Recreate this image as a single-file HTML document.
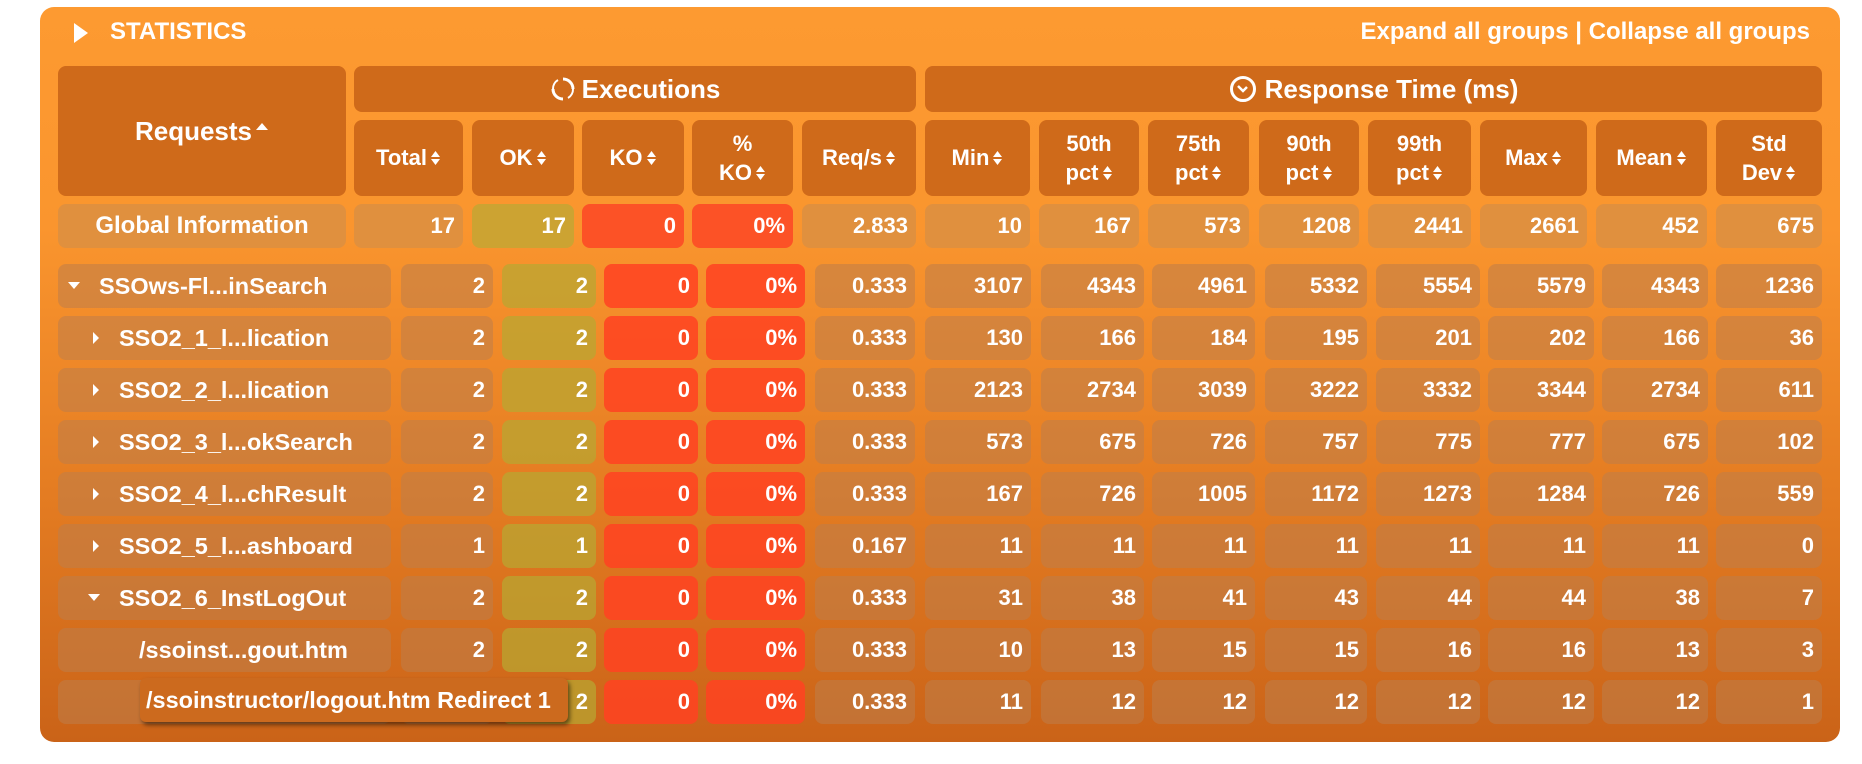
<!DOCTYPE html>
<html><head><meta charset="utf-8"><style>
*{margin:0;padding:0;box-sizing:border-box}
body{width:1862px;height:764px;background:#fff;position:relative;overflow:hidden;font-family:"Liberation Sans",Arial,sans-serif;font-weight:bold;color:#fff}
.panel{position:absolute;left:40px;top:7px;width:1800px;height:735px;border-radius:14px;background:linear-gradient(to bottom,#fd9a31 0%,#fa952e 30%,#e57d22 65%,#ca6318 100%)}
.c{position:absolute;height:44px;line-height:44px;border-radius:8px;font-size:22px;text-align:right;padding-right:8px;white-space:nowrap}
.h{background:#cf6a1a;text-align:center;padding:0;border-radius:8px;position:absolute;font-size:22px}
.g{background:#e0903e}
.d{background:rgba(190,125,75,0.55)}
.ok{background:rgba(183,167,50,0.72)}
.ko{background:rgba(255,66,34,0.86)}
.gok{background:#cca332}
.gko{background:#fc5226}
.n{text-align:left;padding-left:0;font-size:23.5px}
.s{display:inline-block;width:11px;height:18px;vertical-align:-2px;margin-left:3px}
.two{line-height:29px;padding-top:9px}
.one{line-height:76px}
.tri{display:inline-block;width:0;height:0;border-top:6px solid transparent;border-bottom:6px solid transparent;border-left:7px solid #fff;position:absolute}
.dn{display:inline-block;width:0;height:0;border-left:6px solid transparent;border-right:6px solid transparent;border-top:7px solid #fff;position:absolute}
</style></head><body>
<div class="panel"></div>
<svg style="position:absolute;left:73px;top:22px" width="16" height="22"><polygon points="1,1 15,11 1,21" fill="#fff"/></svg>
<div style="position:absolute;left:110px;top:17px;font-size:24px;line-height:30px">STATISTICS</div>
<div style="position:absolute;right:52px;top:17px;font-size:24px;line-height:30px">Expand all groups | Collapse all groups</div>

<div class="h" style="left:58px;top:66px;width:288px;height:130px;line-height:130px;font-size:26px">Requests<svg width="14" height="12" style="margin-left:3px;vertical-align:8px"><polygon points="1,10 7,3 13,10" fill="#fff"/></svg></div>
<div class="h" style="left:354px;top:66px;width:562px;height:46px;line-height:46px;font-size:26px"><svg width="26" height="26" style="vertical-align:-4px;margin-right:6px"><path d="M13 3 A10 10 0 0 1 23 13" stroke="#fff" stroke-width="3" fill="none"/><path d="M13 23 A10 10 0 0 1 3 13" stroke="#fff" stroke-width="3" fill="none"/><path d="M3 13 A10 10 0 0 1 8 4" stroke="#fff" stroke-width="2" fill="none"/><path d="M23 13 A10 10 0 0 1 18 22" stroke="#fff" stroke-width="2" fill="none"/></svg>Executions</div>
<div class="h" style="left:925px;top:66px;width:897px;height:46px;line-height:46px;font-size:26px"><svg width="28" height="28" style="vertical-align:-5px;margin-right:8px"><circle cx="14" cy="14" r="11.5" stroke="#fff" stroke-width="3" fill="none"/><path d="M9 11 L14 16 L18 12" stroke="#fff" stroke-width="2.5" fill="none"/></svg>Response Time (ms)</div>

<div class="h one" style="left:354px;top:120px;width:109px;height:76px">Total<svg class="s"><polygon points="1,8 5.5,2 10,8" fill="#fff"/><polygon points="1,10 5.5,16 10,10" fill="#fff"/></svg></div>
<div class="h one" style="left:472px;top:120px;width:102px;height:76px">OK<svg class="s"><polygon points="1,8 5.5,2 10,8" fill="#fff"/><polygon points="1,10 5.5,16 10,10" fill="#fff"/></svg></div>
<div class="h one" style="left:582px;top:120px;width:102px;height:76px">KO<svg class="s"><polygon points="1,8 5.5,2 10,8" fill="#fff"/><polygon points="1,10 5.5,16 10,10" fill="#fff"/></svg></div>
<div class="h two" style="left:692px;top:120px;width:101px;height:76px">%<br>KO<svg class="s"><polygon points="1,8 5.5,2 10,8" fill="#fff"/><polygon points="1,10 5.5,16 10,10" fill="#fff"/></svg></div>
<div class="h one" style="left:802px;top:120px;width:114px;height:76px">Req/s<svg class="s"><polygon points="1,8 5.5,2 10,8" fill="#fff"/><polygon points="1,10 5.5,16 10,10" fill="#fff"/></svg></div>
<div class="h one" style="left:925px;top:120px;width:105px;height:76px">Min<svg class="s"><polygon points="1,8 5.5,2 10,8" fill="#fff"/><polygon points="1,10 5.5,16 10,10" fill="#fff"/></svg></div>
<div class="h two" style="left:1039px;top:120px;width:100px;height:76px">50th<br>pct<svg class="s"><polygon points="1,8 5.5,2 10,8" fill="#fff"/><polygon points="1,10 5.5,16 10,10" fill="#fff"/></svg></div>
<div class="h two" style="left:1148px;top:120px;width:101px;height:76px">75th<br>pct<svg class="s"><polygon points="1,8 5.5,2 10,8" fill="#fff"/><polygon points="1,10 5.5,16 10,10" fill="#fff"/></svg></div>
<div class="h two" style="left:1259px;top:120px;width:100px;height:76px">90th<br>pct<svg class="s"><polygon points="1,8 5.5,2 10,8" fill="#fff"/><polygon points="1,10 5.5,16 10,10" fill="#fff"/></svg></div>
<div class="h two" style="left:1368px;top:120px;width:103px;height:76px">99th<br>pct<svg class="s"><polygon points="1,8 5.5,2 10,8" fill="#fff"/><polygon points="1,10 5.5,16 10,10" fill="#fff"/></svg></div>
<div class="h one" style="left:1480px;top:120px;width:107px;height:76px">Max<svg class="s"><polygon points="1,8 5.5,2 10,8" fill="#fff"/><polygon points="1,10 5.5,16 10,10" fill="#fff"/></svg></div>
<div class="h one" style="left:1596px;top:120px;width:111px;height:76px">Mean<svg class="s"><polygon points="1,8 5.5,2 10,8" fill="#fff"/><polygon points="1,10 5.5,16 10,10" fill="#fff"/></svg></div>
<div class="h two" style="left:1716px;top:120px;width:106px;height:76px">Std<br>Dev<svg class="s"><polygon points="1,8 5.5,2 10,8" fill="#fff"/><polygon points="1,10 5.5,16 10,10" fill="#fff"/></svg></div>

<!-- Global -->
<div style="position:absolute;left:0;top:204px">
<div class="c g" style="left:58px;width:288px;text-align:center;padding:0;font-size:24px">Global Information</div>
<div class="c g" style="left:354px;width:109px">17</div>
<div class="c gok" style="left:472px;width:102px">17</div>
<div class="c gko" style="left:582px;width:102px">0</div>
<div class="c gko" style="left:692px;width:101px">0%</div>
<div class="c g" style="left:802px;width:114px">2.833</div>
<div class="c g" style="left:925px;width:105px">10</div>
<div class="c g" style="left:1039px;width:100px">167</div>
<div class="c g" style="left:1148px;width:101px">573</div>
<div class="c g" style="left:1259px;width:100px">1208</div>
<div class="c g" style="left:1368px;width:103px">2441</div>
<div class="c g" style="left:1480px;width:107px">2661</div>
<div class="c g" style="left:1596px;width:111px">452</div>
<div class="c g" style="left:1716px;width:106px">675</div>
</div>

<!-- rows -->
<div style="position:absolute;left:0;top:264px">
<div class="c d n" style="left:58px;width:333px"><span class="dn" style="left:10px;top:18px"></span><span style="position:absolute;left:41px">SSOws-Fl...inSearch</span></div>
<div class="c d" style="left:401px;width:92px">2</div><div class="c ok" style="left:502px;width:94px">2</div><div class="c ko" style="left:604px;width:94px">0</div><div class="c ko" style="left:706px;width:99px">0%</div><div class="c d" style="left:815px;width:100px">0.333</div>
<div class="c d" style="left:925px;width:106px">3107</div><div class="c d" style="left:1041px;width:103px">4343</div><div class="c d" style="left:1152px;width:103px">4961</div><div class="c d" style="left:1265px;width:102px">5332</div><div class="c d" style="left:1376px;width:104px">5554</div><div class="c d" style="left:1488px;width:106px">5579</div><div class="c d" style="left:1602px;width:106px">4343</div><div class="c d" style="left:1716px;width:106px">1236</div>
</div>
<div style="position:absolute;left:0;top:316px">
<div class="c d n" style="left:58px;width:333px"><span class="tri" style="left:35px;top:16px;border-top-width:6px;border-bottom-width:6px;border-left-width:6px"></span><span style="position:absolute;left:61px">SSO2_1_l...lication</span></div>
<div class="c d" style="left:401px;width:92px">2</div><div class="c ok" style="left:502px;width:94px">2</div><div class="c ko" style="left:604px;width:94px">0</div><div class="c ko" style="left:706px;width:99px">0%</div><div class="c d" style="left:815px;width:100px">0.333</div>
<div class="c d" style="left:925px;width:106px">130</div><div class="c d" style="left:1041px;width:103px">166</div><div class="c d" style="left:1152px;width:103px">184</div><div class="c d" style="left:1265px;width:102px">195</div><div class="c d" style="left:1376px;width:104px">201</div><div class="c d" style="left:1488px;width:106px">202</div><div class="c d" style="left:1602px;width:106px">166</div><div class="c d" style="left:1716px;width:106px">36</div>
</div>
<div style="position:absolute;left:0;top:368px">
<div class="c d n" style="left:58px;width:333px"><span class="tri" style="left:35px;top:16px;border-top-width:6px;border-bottom-width:6px;border-left-width:6px"></span><span style="position:absolute;left:61px">SSO2_2_l...lication</span></div>
<div class="c d" style="left:401px;width:92px">2</div><div class="c ok" style="left:502px;width:94px">2</div><div class="c ko" style="left:604px;width:94px">0</div><div class="c ko" style="left:706px;width:99px">0%</div><div class="c d" style="left:815px;width:100px">0.333</div>
<div class="c d" style="left:925px;width:106px">2123</div><div class="c d" style="left:1041px;width:103px">2734</div><div class="c d" style="left:1152px;width:103px">3039</div><div class="c d" style="left:1265px;width:102px">3222</div><div class="c d" style="left:1376px;width:104px">3332</div><div class="c d" style="left:1488px;width:106px">3344</div><div class="c d" style="left:1602px;width:106px">2734</div><div class="c d" style="left:1716px;width:106px">611</div>
</div>
<div style="position:absolute;left:0;top:420px">
<div class="c d n" style="left:58px;width:333px"><span class="tri" style="left:35px;top:16px;border-top-width:6px;border-bottom-width:6px;border-left-width:6px"></span><span style="position:absolute;left:61px">SSO2_3_l...okSearch</span></div>
<div class="c d" style="left:401px;width:92px">2</div><div class="c ok" style="left:502px;width:94px">2</div><div class="c ko" style="left:604px;width:94px">0</div><div class="c ko" style="left:706px;width:99px">0%</div><div class="c d" style="left:815px;width:100px">0.333</div>
<div class="c d" style="left:925px;width:106px">573</div><div class="c d" style="left:1041px;width:103px">675</div><div class="c d" style="left:1152px;width:103px">726</div><div class="c d" style="left:1265px;width:102px">757</div><div class="c d" style="left:1376px;width:104px">775</div><div class="c d" style="left:1488px;width:106px">777</div><div class="c d" style="left:1602px;width:106px">675</div><div class="c d" style="left:1716px;width:106px">102</div>
</div>
<div style="position:absolute;left:0;top:472px">
<div class="c d n" style="left:58px;width:333px"><span class="tri" style="left:35px;top:16px;border-top-width:6px;border-bottom-width:6px;border-left-width:6px"></span><span style="position:absolute;left:61px">SSO2_4_l...chResult</span></div>
<div class="c d" style="left:401px;width:92px">2</div><div class="c ok" style="left:502px;width:94px">2</div><div class="c ko" style="left:604px;width:94px">0</div><div class="c ko" style="left:706px;width:99px">0%</div><div class="c d" style="left:815px;width:100px">0.333</div>
<div class="c d" style="left:925px;width:106px">167</div><div class="c d" style="left:1041px;width:103px">726</div><div class="c d" style="left:1152px;width:103px">1005</div><div class="c d" style="left:1265px;width:102px">1172</div><div class="c d" style="left:1376px;width:104px">1273</div><div class="c d" style="left:1488px;width:106px">1284</div><div class="c d" style="left:1602px;width:106px">726</div><div class="c d" style="left:1716px;width:106px">559</div>
</div>
<div style="position:absolute;left:0;top:524px">
<div class="c d n" style="left:58px;width:333px"><span class="tri" style="left:35px;top:16px;border-top-width:6px;border-bottom-width:6px;border-left-width:6px"></span><span style="position:absolute;left:61px">SSO2_5_l...ashboard</span></div>
<div class="c d" style="left:401px;width:92px">1</div><div class="c ok" style="left:502px;width:94px">1</div><div class="c ko" style="left:604px;width:94px">0</div><div class="c ko" style="left:706px;width:99px">0%</div><div class="c d" style="left:815px;width:100px">0.167</div>
<div class="c d" style="left:925px;width:106px">11</div><div class="c d" style="left:1041px;width:103px">11</div><div class="c d" style="left:1152px;width:103px">11</div><div class="c d" style="left:1265px;width:102px">11</div><div class="c d" style="left:1376px;width:104px">11</div><div class="c d" style="left:1488px;width:106px">11</div><div class="c d" style="left:1602px;width:106px">11</div><div class="c d" style="left:1716px;width:106px">0</div>
</div>
<div style="position:absolute;left:0;top:576px">
<div class="c d n" style="left:58px;width:333px"><span class="dn" style="left:30px;top:18px"></span><span style="position:absolute;left:61px">SSO2_6_InstLogOut</span></div>
<div class="c d" style="left:401px;width:92px">2</div><div class="c ok" style="left:502px;width:94px">2</div><div class="c ko" style="left:604px;width:94px">0</div><div class="c ko" style="left:706px;width:99px">0%</div><div class="c d" style="left:815px;width:100px">0.333</div>
<div class="c d" style="left:925px;width:106px">31</div><div class="c d" style="left:1041px;width:103px">38</div><div class="c d" style="left:1152px;width:103px">41</div><div class="c d" style="left:1265px;width:102px">43</div><div class="c d" style="left:1376px;width:104px">44</div><div class="c d" style="left:1488px;width:106px">44</div><div class="c d" style="left:1602px;width:106px">38</div><div class="c d" style="left:1716px;width:106px">7</div>
</div>
<div style="position:absolute;left:0;top:628px">
<div class="c d n" style="left:58px;width:333px"><span style="position:absolute;left:81px">/ssoinst...gout.htm</span></div>
<div class="c d" style="left:401px;width:92px">2</div><div class="c ok" style="left:502px;width:94px">2</div><div class="c ko" style="left:604px;width:94px">0</div><div class="c ko" style="left:706px;width:99px">0%</div><div class="c d" style="left:815px;width:100px">0.333</div>
<div class="c d" style="left:925px;width:106px">10</div><div class="c d" style="left:1041px;width:103px">13</div><div class="c d" style="left:1152px;width:103px">15</div><div class="c d" style="left:1265px;width:102px">15</div><div class="c d" style="left:1376px;width:104px">16</div><div class="c d" style="left:1488px;width:106px">16</div><div class="c d" style="left:1602px;width:106px">13</div><div class="c d" style="left:1716px;width:106px">3</div>
</div>
<div style="position:absolute;left:0;top:680px">
<div class="c d n" style="left:58px;width:333px"></div>
<div class="c d" style="left:401px;width:92px">2</div><div class="c ok" style="left:502px;width:94px">2</div><div class="c ko" style="left:604px;width:94px">0</div><div class="c ko" style="left:706px;width:99px">0%</div><div class="c d" style="left:815px;width:100px">0.333</div>
<div class="c d" style="left:925px;width:106px">11</div><div class="c d" style="left:1041px;width:103px">12</div><div class="c d" style="left:1152px;width:103px">12</div><div class="c d" style="left:1265px;width:102px">12</div><div class="c d" style="left:1376px;width:104px">12</div><div class="c d" style="left:1488px;width:106px">12</div><div class="c d" style="left:1602px;width:106px">12</div><div class="c d" style="left:1716px;width:106px">1</div>
</div>
<div style="position:absolute;left:140px;top:678px;width:428px;height:44px;line-height:44px;background:#cc6a1e;border-radius:6px;box-shadow:2px 3px 4px rgba(0,0,0,0.5);font-size:23.5px;padding-left:6px;white-space:nowrap;overflow:hidden">/ssoinstructor/logout.htm Redirect 1</div>
</body></html>
